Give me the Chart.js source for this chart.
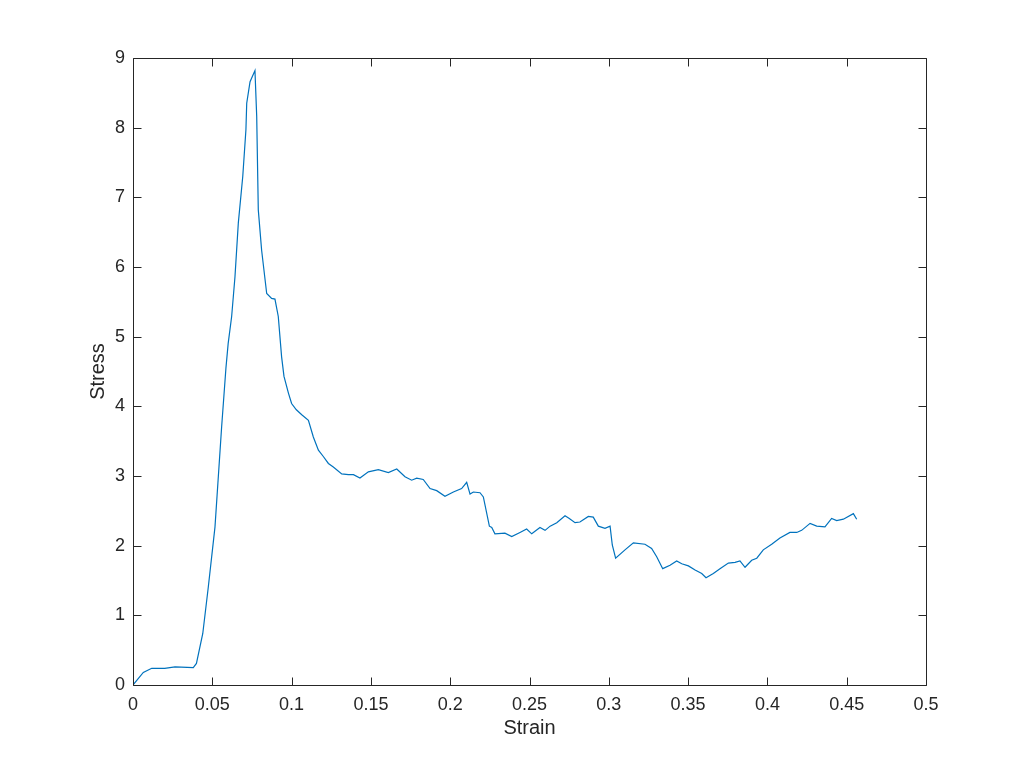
<!DOCTYPE html>
<html>
<head>
<meta charset="utf-8">
<script src="https://cdn.jsdelivr.net/npm/chart.js@4.4.1/dist/chart.umd.min.js"></script>
<style>
  html, body { margin: 0; padding: 0; background: #fff; }
  canvas { display: block; }
</style>
</head>
<body>
<canvas id="stressChart" width="1024" height="768"></canvas>
<script>
var strain = [0, 0.0065, 0.0118, 0.020, 0.0265, 0.038, 0.040, 0.044, 0.0475, 0.0517,
  0.0559, 0.0586, 0.0600, 0.0622, 0.0643, 0.0664, 0.0692, 0.0712, 0.0717, 0.0738,
  0.0769, 0.0780, 0.0790, 0.0811, 0.0843, 0.0874, 0.0895, 0.0916, 0.0937, 0.0952,
  0.0980, 0.1000, 0.1030, 0.1064, 0.1106, 0.1137, 0.1169, 0.1200, 0.1232, 0.1263,
  0.1316, 0.1358, 0.1390, 0.1431, 0.1484, 0.1547, 0.1610, 0.1663, 0.1715, 0.1757,
  0.1789, 0.1830, 0.1873, 0.1915, 0.1967, 0.2020, 0.2072, 0.2104, 0.2125, 0.2146,
  0.2188, 0.2209, 0.2247, 0.2262, 0.2282, 0.2345, 0.2388, 0.2440, 0.2482, 0.2514,
  0.2566, 0.2598, 0.2630, 0.2672, 0.2724, 0.2751, 0.2787, 0.2818, 0.2871, 0.2902,
  0.2934, 0.2976, 0.3008, 0.3022, 0.3043, 0.3102, 0.3155, 0.3228, 0.3270, 0.3302,
  0.3340, 0.3386, 0.3428, 0.3460, 0.3502, 0.3544, 0.3586, 0.3613, 0.3659, 0.3701,
  0.3754, 0.3796, 0.3827, 0.3859, 0.3901, 0.3933, 0.3974, 0.4027, 0.4079, 0.4142,
  0.4185, 0.4216, 0.4269, 0.4311, 0.4363, 0.4405, 0.4437, 0.4479, 0.4542, 0.4563];

var stress = [0, 0.18, 0.24, 0.24, 0.26, 0.25, 0.31, 0.74, 1.41, 2.27,
  3.71, 4.55, 4.90, 5.29, 5.86, 6.63, 7.30, 7.97, 8.35, 8.66,
  8.82, 8.16, 6.82, 6.24, 5.62, 5.55, 5.54, 5.29, 4.71, 4.43,
  4.19, 4.04, 3.95, 3.88, 3.80, 3.56, 3.37, 3.28, 3.18, 3.13,
  3.03, 3.02, 3.02, 2.97, 3.06, 3.09, 3.05, 3.10, 2.99, 2.94,
  2.97, 2.95, 2.82, 2.79, 2.71, 2.77, 2.82, 2.91, 2.74, 2.77,
  2.76, 2.70, 2.28, 2.26, 2.17, 2.18, 2.13, 2.19, 2.24, 2.17,
  2.26, 2.22, 2.28, 2.33, 2.43, 2.39, 2.33, 2.34, 2.42, 2.41,
  2.28, 2.25, 2.28, 2.01, 1.82, 1.94, 2.04, 2.02, 1.96, 1.84,
  1.67, 1.72, 1.78, 1.74, 1.71, 1.65, 1.60, 1.54, 1.60, 1.67,
  1.75, 1.76, 1.78, 1.69, 1.79, 1.82, 1.94, 2.02, 2.11, 2.19,
  2.19, 2.22, 2.32, 2.28, 2.27, 2.39, 2.36, 2.38, 2.46, 2.38];

var xTicks = [0, 0.05, 0.1, 0.15, 0.2, 0.25, 0.3, 0.35, 0.4, 0.45, 0.5];
var yTicks = [0, 1, 2, 3, 4, 5, 6, 7, 8, 9];

var axisColor = '#262626';
var fontFamily = '"Liberation Sans", Arial, Helvetica, sans-serif';

var points = strain.map(function (s, i) { return { x: s, y: stress[i] }; });

// MATLAB-style box with inward ticks on every side
var boxPlugin = {
    id: 'boxTicks',
    afterDraw: function (chart) {
        var ctx = chart.ctx;
        var a = chart.chartArea;
        var xs = chart.scales.x, ys = chart.scales.y;
        var len = 8;
        var l = Math.round(a.left) + 0.5, r = Math.round(a.right) + 0.5;
        var t = Math.round(a.top) + 0.5, b = Math.round(a.bottom) + 0.5;
        ctx.save();
        ctx.strokeStyle = axisColor;
        ctx.lineWidth = 1;
        ctx.beginPath();
        ctx.rect(l, t, r - l, b - t);
        xTicks.forEach(function (v) {
            var px = Math.round(xs.getPixelForValue(v)) + 0.5;
            ctx.moveTo(px, b); ctx.lineTo(px, b - len);
            ctx.moveTo(px, t); ctx.lineTo(px, t + len);
        });
        yTicks.forEach(function (v) {
            var py = Math.round(ys.getPixelForValue(v)) + 0.5;
            ctx.moveTo(l, py); ctx.lineTo(l + len, py);
            ctx.moveTo(r, py); ctx.lineTo(r - len, py);
        });
        ctx.stroke();
        ctx.restore();
    }
};

var ctx = document.getElementById('stressChart').getContext('2d');
new Chart(ctx, {
    type: 'line',
    data: {
        datasets: [{
            data: points,
            borderColor: '#0072BD',
            borderWidth: 1.2,
            pointRadius: 0,
            fill: false,
            tension: 0
        }]
    },
    options: {
        responsive: false,
        animation: false,
        layout: { padding: { left: 0, top: 58, right: 98, bottom: 0 } },
        plugins: { legend: { display: false }, tooltip: { enabled: false } },
        scales: {
            x: {
                type: 'linear',
                min: 0,
                max: 0.5,
                afterBuildTicks: function (scale) {
                    scale.ticks = xTicks.map(function (v) { return { value: v }; });
                },
                afterFit: function (scale) { scale.height = 83; },
                grid: { display: false, drawTicks: false },
                border: { display: false },
                ticks: {
                    color: axisColor,
                    padding: 9,
                    maxRotation: 0,
                    font: { family: fontFamily, size: 18 },
                    callback: function (v) { return String(Math.round(v * 100) / 100); }
                },
                title: {
                    display: true,
                    text: 'Strain',
                    color: axisColor,
                    padding: { top: 0, bottom: 28 },
                    font: { family: fontFamily, size: 20 }
                }
            },
            y: {
                type: 'linear',
                min: 0,
                max: 9,
                afterBuildTicks: function (scale) {
                    scale.ticks = yTicks.map(function (v) { return { value: v }; });
                },
                afterFit: function (scale) { scale.width = 133; },
                grid: { display: false, drawTicks: false },
                border: { display: false },
                ticks: {
                    color: axisColor,
                    padding: 8,
                    font: { family: fontFamily, size: 18 }
                },
                title: {
                    display: true,
                    text: 'Stress',
                    color: axisColor,
                    padding: { top: 86, bottom: 0 },
                    font: { family: fontFamily, size: 20 }
                }
            }
        }
    },
    plugins: [boxPlugin]
});
</script>
</body>
</html>
